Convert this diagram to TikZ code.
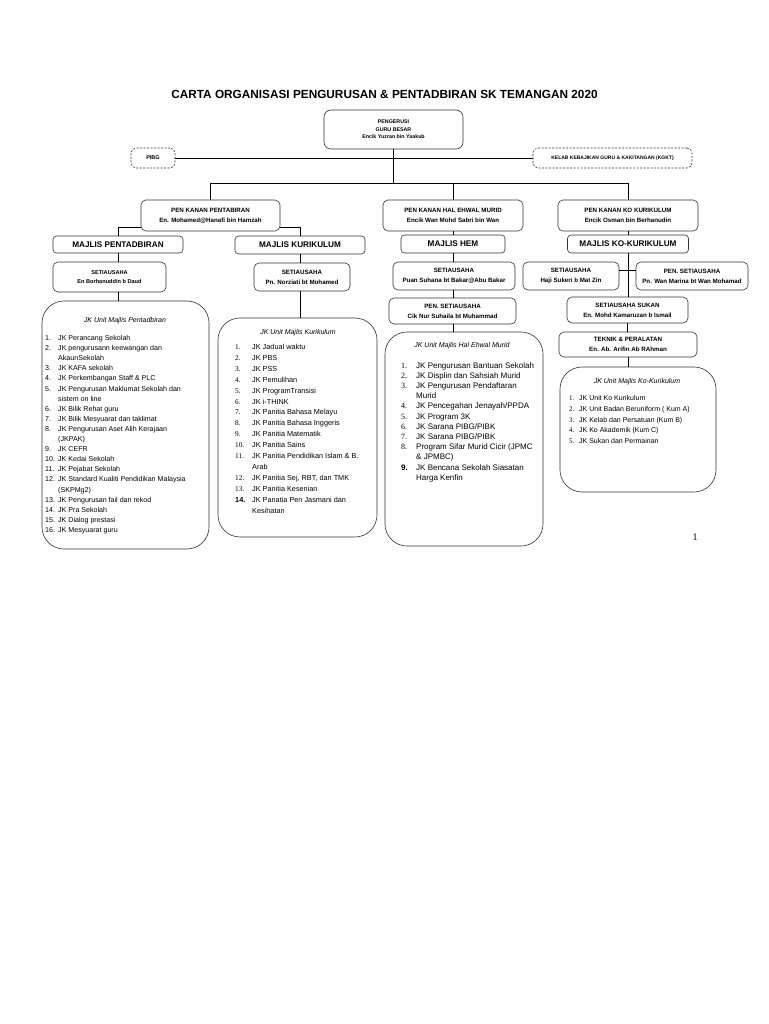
\documentclass[tikz,border=0pt]{standalone}
\usepackage{fontspec}
\setmainfont{Liberation Sans}
\newfontfamily\serifnum{Liberation Serif}
\newcommand{\snum}[1]{{\serifnum #1}}

\begin{document}
\begin{tikzpicture}[x=1pt, y=-1pt,
    box/.style={draw=black!80, line width=0.6pt, rounded corners=5pt, align=center, inner sep=1pt, font=\fontsize{6.2}{10}\selectfont\bfseries},
    dashbox/.style={box, dash pattern=on 2pt off 1.5pt},
    majlis/.style={box, rounded corners=3.5pt, font=\fontsize{8.2}{10}\selectfont\bfseries},
    unitbox/.style={draw=black!80, line width=0.6pt, rounded corners=22pt},
    unittitle/.style={inner sep=0pt, font=\fontsize{7}{9}\selectfont\itshape},
    unitlist/.style={anchor=base west, inner sep=0pt, align=left},
    boxsize/.style 2 args={minimum width=#1pt, minimum height=#2pt},
    link/.style={line width=0.9pt}]
    \fill[white] (0,0) rectangle (768,1024);
    \useasboundingbox (0,0) rectangle (768,1024);

    \node[font=\fontsize{11.8}{14}\selectfont\bfseries] (title) at (384.5,94) {CARTA ORGANISASI PENGURUSAN \& PENTADBIRAN SK TEMANGAN 2020};

    % top level
    \node[box, boxsize={139}{39}, rounded corners=7pt, font=\fontsize{5.3}{7.5}\selectfont\bfseries] (pengerusi) at (393.5,129.5) {PENGERUSI\\GURU BESAR\\Encik Yuzran bin Yaakub};
    \node[dashbox, boxsize={44}{20}, font=\fontsize{5.5}{7}\selectfont\bfseries] (pibg) at (153,158) {PIBG};
    \node[dashbox, boxsize={159}{20}, font=\fontsize{5}{7}\selectfont\bfseries] (kelab) at (612.5,158) {KELAB KEBAJIKAN GURU \& KAKITANGAN (KGKT)};
    \coordinate (bus) at (0,183);

    % pen kanan
    \node[box, boxsize={139}{31}] (pkPentadbiran) at (210.5,215.5) {PEN KANAN PENTABIRAN\\En. Mohamed@Hanafi bin Hamzah};
    \node[box, boxsize={140}{31}] (pkHem) at (453,215.5) {PEN KANAN HAL EHWAL MURID\\Encik Wan  Mohd Sabri bin Wan};
    \node[box, boxsize={140}{31}] (pkKoku) at (628,215.5) {PEN KANAN KO KURIKULUM\\Encik Osman bin Berhanudin};

    % majlis
    \node[majlis, boxsize={130}{17}] (majlisPentadbiran) at (118,244.5) {MAJLIS PENTADBIRAN};
    \node[majlis, boxsize={130}{18}] (majlisKurikulum) at (300,245) {MAJLIS KURIKULUM};
    \node[majlis, boxsize={104}{18}] (majlisHem) at (453,244) {MAJLIS HEM};
    \node[majlis, boxsize={121}{18}] (majlisKoku) at (628,244) {MAJLIS KO-KURIKULUM};

    % setiausaha
    \node[box, boxsize={113}{30}, font=\fontsize{5.6}{9}\selectfont\bfseries] (setiaPentadbiran) at (109.5,277) {SETIAUSAHA\\En Borhanuddin b Daud};
    \node[box, boxsize={96}{28}] (setiaKurikulum) at (302,277) {SETIAUSAHA\\Pn. Norziati bt Mohamed};
    \node[box, boxsize={122}{28}] (setiaHem) at (454,276) {SETIAUSAHA\\Puan Suhana bt Bakar@Abu Bakar};
    \node[box, boxsize={127}{26}] (penSetiaHem) at (452.5,311) {PEN. SETIAUSAHA\\Cik Nur Suhaila bt Muhammad};
    \node[box, boxsize={96}{28}] (setiaKoku) at (571,276) {SETIAUSAHA\\Haji Sukeri b Mat Zin};
    \node[box, boxsize={112}{28}] (penSetiaKoku) at (692,276) {PEN. SETIAUSAHA\\Pn. Wan Marina bt Wan Mohamad};
    \node[box, boxsize={121}{26}] (setiaSukan) at (627.5,310) {SETIAUSAHA SUKAN\\En. Mohd Kamaruzan b Ismail};
    \node[box, boxsize={138}{25}] (teknik) at (628,344.5) {TEKNIK \& PERALATAN\\En. Ab. Arifin Ab RAhman};

    % unit boxes
    \node[unitbox, boxsize={167}{248}] (unitPentadbiran) at (125.5,425) {};
    \node[unitbox, boxsize={159}{219}] (unitKurikulum) at (297.5,427.5) {};
    \node[unitbox, boxsize={158}{214}] (unitHem) at (464,439) {};
    \node[unitbox, boxsize={156}{125}] (unitKoku) at (638,429.5) {};

    \node[unittitle] (titlePentadbiran) at (125,321) {JK Unit Majlis Pentadbiran};
    \node[unittitle] (titleKurikulum) at (298,333) {JK Unit Majlis Kurikulum};
    \node[unittitle] (titleHem) at (462,346) {JK Unit Majlis Hal Ehwal Murid};
    \node[unittitle] (titleKoku) at (637,382) {JK Unit Majlis Ko-Kurikulum};

    \node[unitlist, font=\fontsize{7.1}{10.1}\selectfont] (listPentadbiran) at (45,340.5) {%
      \begin{tabular}[t]{@{}p{13pt}@{}l@{}}
        1. & JK Perancang Sekolah\\
        2. & JK pengurusann keewangan dan\\
           & AkaunSekolah\\
        3. & JK KAFA sekolah\\
        4. & JK Perkembangan Staff \& PLC\\
        5. & JK Pengurusan Maklumat Sekolah dan\\
           & sistem on line\\
        6. & JK Bilik Rehat guru\\
        7. & JK Bilik Mesyuarat dan taklimat\\
        8. & JK Pengurusan Aset Alih Kerajaan\\
           & (JKPAK)\\
        9. & JK CEFR\\
        10. & JK Kedai Sekolah\\
        11. & JK Pejabat Sekolah\\
        12. & JK Standard Kualiti Pendidikan Malaysia\\
            & (SKPMg2)\\
        13. & JK Pengurusan fail dan rekod\\
        14. & JK Pra Sekolah\\
        15. & JK Dialog prestasi\\
        16. & JK Mesyuarat guru
      \end{tabular}};

    \node[unitlist, font=\fontsize{7.3}{10.9}\selectfont] (listKurikulum) at (235,349.5) {%
      \begin{tabular}[t]{@{}p{17pt}@{}l@{}}
        \snum{1.} & JK Jadual waktu\\
        \snum{2.} & JK PBS\\
        \snum{3.} & JK PSS\\
        \snum{4.} & JK Pemulihan\\
        \snum{5.} & JK ProgramTransisi\\
        \snum{6.} & JK i-THINK\\
        \snum{7.} & JK Panitia Bahasa Melayu\\
        \snum{8.} & JK Panitia Bahasa Inggeris\\
        \snum{9.} & JK Panitia Matematik\\
        \snum{10.} & JK Panitia Sains\\
        \snum{11.} & JK Panitia Pendidikan Islam \& B.\\
                   & Arab\\
        \snum{12.} & JK Panitia Sej, RBT, dan TMK\\
        \snum{13.} & JK Panitia Kesenian\\
        \textbf{14.} & JK Panatia Pen Jasmani dan\\
                     & Kesihatan
      \end{tabular}};

    \node[unitlist, font=\fontsize{8}{10.2}\selectfont] (listHem) at (401,368) {%
      \begin{tabular}[t]{@{}p{15pt}@{}l@{}}
        \snum{1.} & JK Pengurusan Bantuan Sekolah\\
        \snum{2.} & JK  Displin dan Sahsiah Murid\\
        \snum{3.} & JK  Pengurusan Pendaftaran\\
                  & Murid\\
        \snum{4.} & JK  Pencegahan Jenayah/PPDA\\
        \snum{5.} & JK  Program 3K\\
        \snum{6.} & JK  Sarana PIBG/PIBK\\
        \snum{7.} & JK  Sarana PIBG/PIBK\\
        \snum{8.} & Program Sifar Murid Cicir (JPMC\\
                  & \& JPMBC)\\
        \textbf{9.} & JK  Bencana Sekolah Siasatan\\
                    & Harga Kenfin
      \end{tabular}};

    \node[unitlist, font=\fontsize{7}{10.8}\selectfont] (listKoku) at (569,400.5) {%
      \begin{tabular}[t]{@{}p{10pt}@{}l@{}}
        \snum{1.} & JK Unit Ko Kurikulum\\
        \snum{2.} & JK Unit Badan Beruniform ( Kum A)\\
        \snum{3.} & JK Kelab dan Persatuan (Kum B)\\
        \snum{4.} & JK Ko Akademik (Kum C)\\
        \snum{5.} & JK Sukan dan Permainan
      \end{tabular}};

    \node[font=\serifnum\fontsize{10}{12}\selectfont] (pagenum) at (695,537) {1};

    % connectors
    \draw[link] (pibg.east) -- (kelab.west);
    \draw[link] (pengerusi.south) -- (pengerusi.south |- bus);
    \draw[link] (pkPentadbiran.north) -- (pkPentadbiran.north |- bus) -- (pkKoku.north |- bus) -- (pkKoku.north);
    \draw[link] (pkHem.north) -- (pkHem.north |- bus);

    \draw[link] ([yshift=4pt]pkPentadbiran.south west) -| (majlisPentadbiran.north);
    \draw[link] ([yshift=4pt]pkPentadbiran.south east) -| (majlisKurikulum.north);
    \draw[link] (majlisPentadbiran.south) -- (majlisPentadbiran.south |- setiaPentadbiran.north);
    \draw[link] (setiaPentadbiran.south -| majlisPentadbiran.south) -- (majlisPentadbiran.south |- unitPentadbiran.north);
    \draw[link] (majlisKurikulum.south) -- (majlisKurikulum.south |- setiaKurikulum.north);
    \draw[link] (setiaKurikulum.south -| majlisKurikulum.south) -- (majlisKurikulum.south |- unitKurikulum.north);

    \draw[link] (pkHem.south) -- (pkHem.south |- majlisHem.north);
    \draw[link] (majlisHem.south) -- (majlisHem.south |- setiaHem.north);
    \draw[link] (setiaHem.south -| majlisHem.south) -- (majlisHem.south |- penSetiaHem.north);
    \draw[link] (penSetiaHem.south -| majlisHem.south) -- (majlisHem.south |- unitHem.north);

    \draw[link] (pkKoku.south) -- (pkKoku.south |- majlisKoku.north);
    \draw[link] (majlisKoku.south) -- (majlisKoku.south |- setiaSukan.north);
    \draw[link] ([yshift=6pt]setiaKoku.east) -- ([yshift=6pt]penSetiaKoku.west);
    \draw[link] (setiaSukan.south) -- (setiaSukan.south |- teknik.north);
    \draw[link] (teknik.south) -- (teknik.south |- unitKoku.north);
\end{tikzpicture}
\end{document}
